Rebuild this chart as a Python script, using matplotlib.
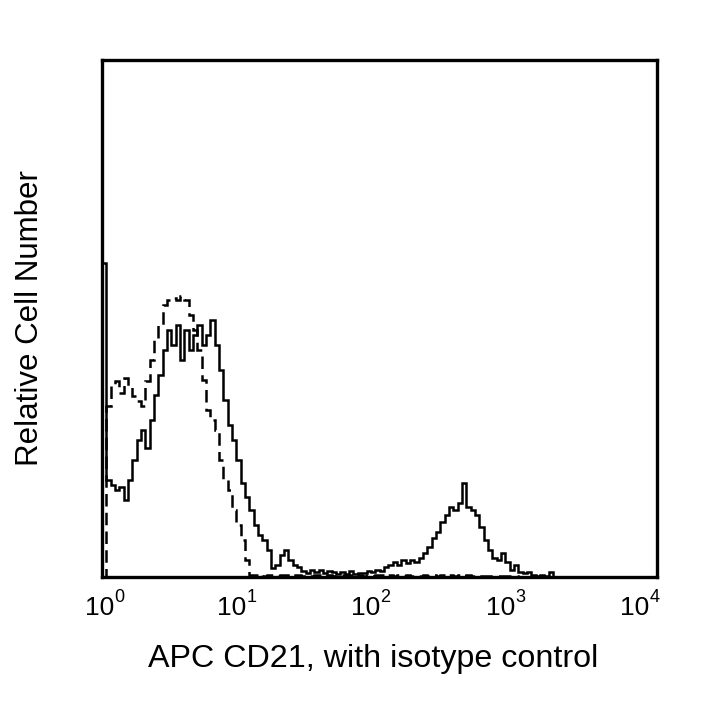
import matplotlib.pyplot as plt
import numpy as np

plt.rcParams["font.family"] = ["Liberation Sans", "DejaVu Sans"]

# 128 log-spaced channels over 10^0 .. 10^4, heights in % of the plot height
n_channels = 128
cd21 = [
    60.7, 18.8, 17.8, 16.8, 17.5, 14.9, 18.8, 22.6, 26.5, 28.4,
    25.0, 30.4, 35.2, 39.1, 43.9, 47.8, 44.9, 48.7, 42.0, 47.8,
    43.9, 46.8, 48.7, 44.9, 46.8, 49.7, 44.9, 40.0, 34.2, 29.4,
    26.5, 22.6, 18.2, 15.5, 13.0, 10.1, 8.1, 7.2, 5.2, 1.7,
    2.3, 4.3, 5.2, 3.3, 2.3, 1.9, 1.2, 0.8, 1.4, 0.9,
    1.3, 0.7, 1.2, 1.0, 0.6, 0.9, 0.5, 1.1, 0.6, 0.8,
    0.7, 1.2, 0.9, 1.3, 1.1, 1.9, 2.3, 2.9, 2.3, 3.3,
    2.7, 3.3, 2.9, 3.7, 4.6, 5.8, 7.5, 8.7, 10.6, 12.0,
    13.5, 13.0, 14.3, 18.2, 13.5, 13.0, 12.0, 9.7, 7.2, 5.2,
    3.7, 3.3, 4.6, 2.9, 1.4, 2.3, 1.0, 0.8, 1.0, 0.3,
    0.2, 0.3, 0.2, 1.0, 0.0, 0.0, 0.0, 0.0, 0.0, 0.0,
    0.0, 0.0, 0.0, 0.0, 0.0, 0.0, 0.0, 0.0, 0.0, 0.0,
    0.0, 0.0, 0.0, 0.0, 0.0, 0.0, 0.0, 0.0,
]
isotype = [
    0.0, 33.0, 37.0, 38.0, 35.5, 38.5, 37.0, 35.0, 34.0, 33.0,
    38.0, 42.0, 46.0, 48.7, 52.6, 53.6, 54.0, 53.6, 54.4, 53.6,
    50.7, 47.8, 43.9, 38.1, 32.3, 30.4, 28.4, 22.6, 18.8, 16.8,
    13.0, 10.1, 7.2, 3.3, 0.4, 0.3, 0.5, 0.2, 0.4, 0.3,
    0.2, 0.4, 0.3, 0.2, 0.3, 0.4, 0.2, 0.3, 0.2, 0.4,
    0.3, 0.2, 0.3, 0.2, 0.4, 0.3, 0.2, 0.3, 0.2, 0.3,
    0.2, 0.3, 0.2, 0.4, 0.3, 0.2, 0.3, 0.2, 0.3, 0.2,
    0.3, 0.2, 0.3, 0.2, 0.3, 0.2, 0.3, 0.2, 0.3, 0.2,
    0.3, 0.2, 0.3, 0.2, 0.3, 0.2, 0.3, 0.2, 0.2, 0.2,
    0.2, 0.2, 0.2, 0.2, 0.2, 0.2, 0.0, 0.0, 0.0, 0.0,
    0.0, 0.0, 0.0, 0.0, 0.0, 0.0, 0.0, 0.0, 0.0, 0.0,
    0.0, 0.0, 0.0, 0.0, 0.0, 0.0, 0.0, 0.0, 0.0, 0.0,
    0.0, 0.0, 0.0, 0.0, 0.0, 0.0, 0.0, 0.0,
]
x_ticks = [1, 10, 100, 1000, 10000]
x_exponents = ["0", "1", "2", "3", "4"]
label_shift = [8.6, 4.0, 0.4, -2.5, -5.8]  # pt, where the "10" ends relative to tick

edges = np.logspace(0, 4, n_channels + 1)

fig = plt.figure(figsize=(7.2, 7.2), dpi=100)
ax = fig.add_axes([0.1417, 0.1986, 0.7708, 0.7181])

ax.stairs(isotype, edges, color="black", linewidth=1.8,
          linestyle=(0, (5, 2.5)), baseline=None)
ax.stairs(cd21, edges, color="black", linewidth=1.8, baseline=None)

ax.set_xscale("log")
ax.set_xlim(1, 10000)
ax.set_ylim(0, 100)
ax.set_xticks(x_ticks)
ax.set_xticklabels([])
ax.minorticks_off()
ax.set_yticks([])
ax.tick_params(axis="x", length=0)
for s in ax.spines.values():
    s.set_linewidth(2.4)

# tick labels: "10" with a large raised exponent
trans = ax.get_xaxis_transform()
for t, e, dx in zip(x_ticks, x_exponents, label_shift):
    ax.annotate("10", xy=(t, 0), xycoords=trans, xytext=(dx, -27.5),
                textcoords="offset points", ha="right", va="baseline",
                fontsize=19, annotation_clip=False)
    ax.annotate(e, xy=(t, 0), xycoords=trans, xytext=(dx + 0.3, -18),
                textcoords="offset points", ha="left", va="baseline",
                fontsize=13, annotation_clip=False)

ax.set_xlabel("APC CD21, with isotype control", fontsize=23.2)
ax.xaxis.set_label_coords(0.488, -0.13)
ax.set_ylabel("Relative Cell Number", fontsize=22.5, labelpad=41)

fig.savefig("out.png", dpi=100)
